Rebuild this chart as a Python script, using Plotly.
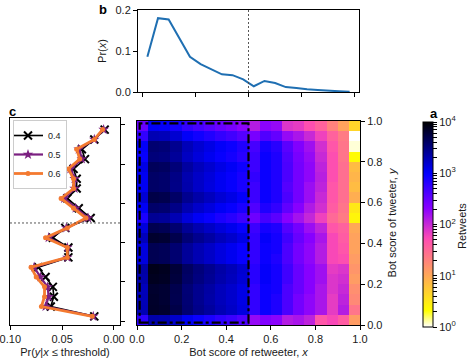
import numpy as np
import plotly.graph_objects as go

# ---------------- data ----------------
bin_centers = [0.025, 0.075, 0.125, 0.175, 0.225, 0.275, 0.325, 0.375, 0.425, 0.475,
               0.525, 0.575, 0.625, 0.675, 0.725, 0.775, 0.825, 0.875, 0.925, 0.975]

# panel b: Pr(x)
pr_x = [0.086, 0.180, 0.177, 0.133, 0.086, 0.068, 0.056, 0.043, 0.041, 0.031,
        0.014, 0.027, 0.022, 0.012, 0.010, 0.0065, 0.005, 0.0025, 0.0017, 0.0005]

# panel c: Pr(y | x <= threshold), y bins from bottom (0.025) to top (0.975)
pr_y_04 = [0.019, 0.061, 0.058, 0.059, 0.066, 0.073, 0.044, 0.044, 0.059, 0.047,
           0.0225, 0.034, 0.045, 0.036, 0.036, 0.039, 0.028, 0.031, 0.019, 0.009]
pr_y_05 = [0.020, 0.066, 0.063, 0.064, 0.071, 0.077, 0.045, 0.045, 0.063, 0.046,
           0.025, 0.037, 0.048, 0.038, 0.038, 0.042, 0.031, 0.034, 0.019, 0.010]
pr_y_06 = [0.021, 0.070, 0.067, 0.067, 0.075, 0.080, 0.045, 0.045, 0.066, 0.045,
           0.027, 0.039, 0.051, 0.039, 0.039, 0.044, 0.033, 0.036, 0.019, 0.011]
thresholds = ["0.4", "0.5", "0.6"]

# panel a: log10(retweets), rows listed from top (y=0.975) to bottom (y=0.025)
log10_retweets_top_down = [
    [2.48, 3.03, 3.00, 2.90, 2.75, 2.65, 2.57, 2.48, 2.40, 2.30, 2.10, 2.30, 2.25, 1.90, 1.85, 1.70, 1.55, 1.30, 1.05, 0.65],
    [2.75, 3.30, 3.28, 3.18, 3.02, 2.92, 2.84, 2.75, 2.68, 2.58, 2.40, 2.60, 2.50, 2.25, 2.15, 2.00, 1.80, 1.55, 1.35, 0.00],
    [3.01, 3.56, 3.54, 3.44, 3.28, 3.18, 3.10, 3.01, 2.94, 2.84, 2.65, 2.90, 2.80, 2.55, 2.35, 2.20, 1.95, 1.65, 1.40, 0.05],
    [2.97, 3.52, 3.50, 3.40, 3.24, 3.14, 3.06, 2.97, 2.90, 2.80, 2.70, 2.95, 2.85, 2.60, 2.40, 2.25, 2.00, 1.70, 1.40, 0.35],
    [3.10, 3.65, 3.63, 3.53, 3.37, 3.27, 3.19, 3.10, 3.03, 2.93, 2.70, 2.95, 2.85, 2.62, 2.42, 2.28, 2.05, 1.70, 1.45, 0.85],
    [3.05, 3.60, 3.58, 3.48, 3.32, 3.22, 3.14, 3.05, 2.98, 2.88, 2.75, 2.95, 2.85, 2.62, 2.42, 2.28, 2.08, 1.70, 1.45, 0.90],
    [3.05, 3.60, 3.58, 3.47, 3.33, 3.22, 3.13, 3.05, 2.98, 2.88, 2.70, 2.95, 2.85, 2.58, 2.42, 2.22, 2.05, 1.65, 1.45, 0.85],
    [3.17, 3.72, 3.70, 3.60, 3.44, 3.34, 3.26, 3.17, 3.10, 3.00, 2.70, 2.95, 2.85, 2.62, 2.42, 2.22, 2.00, 1.65, 1.45, 0.95],
    [3.04, 3.59, 3.57, 3.47, 3.31, 3.21, 3.13, 3.04, 2.97, 2.87, 2.60, 2.85, 2.75, 2.52, 2.32, 2.12, 1.95, 1.60, 1.40, 0.50],
    [2.87, 3.42, 3.40, 3.30, 3.14, 3.04, 2.96, 2.87, 2.80, 2.70, 2.45, 2.65, 2.55, 2.32, 2.18, 2.02, 1.80, 1.50, 1.35, 0.40],
    [3.14, 3.69, 3.67, 3.57, 3.41, 3.31, 3.23, 3.14, 3.07, 2.97, 2.70, 2.90, 2.85, 2.58, 2.42, 2.22, 2.05, 1.65, 1.55, 1.00],
    [3.27, 3.82, 3.80, 3.70, 3.54, 3.44, 3.36, 3.27, 3.20, 3.10, 2.75, 3.00, 2.90, 2.68, 2.48, 2.32, 2.15, 1.75, 1.60, 1.05],
    [3.13, 3.68, 3.66, 3.56, 3.40, 3.30, 3.22, 3.13, 3.06, 2.96, 2.75, 2.95, 2.90, 2.62, 2.42, 2.28, 2.10, 1.75, 1.65, 1.05],
    [3.13, 3.68, 3.66, 3.56, 3.40, 3.30, 3.22, 3.13, 3.06, 2.96, 2.75, 2.95, 2.85, 2.62, 2.42, 2.28, 2.10, 1.75, 1.70, 1.10],
    [3.35, 3.90, 3.88, 3.78, 3.62, 3.52, 3.44, 3.35, 3.28, 3.18, 2.80, 3.00, 2.90, 2.68, 2.48, 2.32, 2.20, 1.85, 1.90, 1.15],
    [3.33, 3.88, 3.86, 3.76, 3.60, 3.50, 3.42, 3.33, 3.26, 3.16, 2.80, 3.00, 2.90, 2.68, 2.48, 2.32, 2.20, 1.90, 1.95, 1.10],
    [3.27, 3.82, 3.80, 3.70, 3.54, 3.44, 3.36, 3.27, 3.20, 3.10, 2.75, 2.95, 2.90, 2.62, 2.48, 2.32, 2.15, 1.90, 2.00, 1.20],
    [3.28, 3.83, 3.80, 3.69, 3.55, 3.44, 3.35, 3.27, 3.20, 3.10, 2.75, 2.95, 2.85, 2.62, 2.42, 2.28, 2.15, 1.85, 2.05, 1.25],
    [3.29, 3.84, 3.82, 3.72, 3.56, 3.46, 3.38, 3.29, 3.22, 3.12, 2.75, 2.95, 2.85, 2.62, 2.42, 2.28, 2.15, 1.85, 2.10, 1.40],
    [2.78, 3.33, 3.31, 3.21, 3.05, 2.95, 2.87, 2.78, 2.71, 2.61, 2.25, 2.35, 2.30, 2.10, 2.15, 2.05, 1.65, 1.75, 1.60, 1.10],
]

cbar_major = [0, 1, 2, 3, 4]
cbar_labels = ["10<sup>0</sup>", "10<sup>1</sup>", "10<sup>2</sup>", "10<sup>3</sup>", "10<sup>4</sup>"]

# ---------------- style helpers ----------------
W, H = 474, 361
FONT = "Liberation Sans, Arial, sans-serif"
TXT = "#1a1a1a"


def px_x(p):
    return p / W


def px_y(p):
    return (H - p) / H


def gnuplot2(t):
    r = min(max(t / 0.32 - 0.78125, 0), 1)
    g = min(max(2 * t - 0.84, 0), 1)
    if t < 0.25:
        b = 4 * t
    elif t < 0.92:
        b = -2 * t + 1.84
    else:
        b = t / 0.08 - 11.5
    b = min(max(b, 0), 1)
    return "rgb(%d,%d,%d)" % (round(r * 255), round(g * 255), round(b * 255))


colorscale = [[p, gnuplot2(1 - p)] for p in np.linspace(0, 1, 51)]

z = log10_retweets_top_down[::-1]

# major + minor ticks of the colour bar
cb_vals, cb_text = [], []
for k in range(4):
    for m in range(1, 10):
        cb_vals.append(k + np.log10(m))
        cb_text.append(cbar_labels[k] if m == 1 else " ")
cb_vals.append(cbar_major[-1])
cb_text.append(cbar_labels[-1])

fig = go.Figure()

fig.add_trace(go.Heatmap(
    x=bin_centers, y=bin_centers, z=z, zmin=0, zmax=4,
    colorscale=colorscale, xaxis="x", yaxis="y", showscale=True,
    colorbar=dict(
        x=px_x(423), xanchor="left", xpad=0, y=px_y(327), yanchor="bottom", ypad=0,
        len=(327 - 122) / H, lenmode="fraction", thickness=10, thicknessmode="pixels",
        outlinewidth=1, outlinecolor="black",
        tickmode="array", tickvals=cb_vals, ticktext=cb_text,
        ticks="outside", ticklen=4, tickcolor="black", tickwidth=1,
        tickfont=dict(size=11, color=TXT, family=FONT),
    ),
))

fig.add_trace(go.Scatter(
    x=bin_centers, y=pr_x, mode="lines", line=dict(color="#1f6fb2", width=2),
    xaxis="x2", yaxis="y2", showlegend=False,
))

series = [
    (pr_y_04, thresholds[0], "#000000", "x-thin", 8, 1.6, 2),
    (pr_y_05, thresholds[1], "#7b1f80", "star", 8, 2.2, 0),
    (pr_y_06, thresholds[2], "#f47a30", "circle", 5, 2.8, 0),
]
for vals, name, col, sym, msize, lw, mlw in series:
    fig.add_trace(go.Scatter(
        x=vals, y=bin_centers, mode="lines+markers", name=name,
        line=dict(color=col, width=lw),
        marker=dict(symbol=sym, size=msize, color=col, line=dict(color=col, width=mlw)),
        xaxis="x3", yaxis="y3",
    ))

axis_common = dict(showline=True, mirror=True, linecolor="black", linewidth=1,
                   ticks="outside", ticklen=4, tickcolor="black", showgrid=False,
                   zeroline=False, automargin=False, ticklabeloverflow="allow",
                   tickfont=dict(size=11, color=TXT, family=FONT))

fig.update_layout(
    width=W, height=H, margin=dict(l=0, r=0, t=0, b=0, autoexpand=False),
    paper_bgcolor="white", plot_bgcolor="white",
    font=dict(family=FONT, size=11, color=TXT),
    xaxis=dict(domain=[px_x(137), px_x(360)], anchor="y", range=[0, 1],
               tickvals=[0, 0.2, 0.4, 0.6, 0.8, 1.0],
               ticktext=["0.0", "0.2", "0.4", "0.6", "0.8", "1.0"],
               title=dict(text="Bot score of retweeter, <i>x</i>", standoff=4,
                          font=dict(size=11, color=TXT)), **axis_common),
    yaxis=dict(domain=[px_y(325), px_y(121)], anchor="x", range=[0, 1], side="right",
               tickvals=[0, 0.2, 0.4, 0.6, 0.8, 1.0],
               ticktext=["0.0", "0.2", "0.4", "0.6", "0.8", "1.0"],
               title=dict(text="Bot score of tweeter, <i>y</i>", standoff=6,
                          font=dict(size=11, color=TXT)), **axis_common),
    xaxis2=dict(domain=[px_x(138), px_x(359)], anchor="y2", range=[-0.019, 1.019],
                tickvals=[0, 0.25, 0.5, 0.75, 1.0], showticklabels=False, **axis_common),
    yaxis2=dict(domain=[px_y(92), px_y(10)], anchor="x2", range=[0, 0.2],
                tickvals=[0, 0.1, 0.2], ticktext=["0.0", "0.1", "0.2"],
                title=dict(text="Pr(<i>x</i>)", standoff=6, font=dict(size=11, color=TXT)),
                **axis_common),
    xaxis3=dict(domain=[px_x(10), px_x(120)], anchor="y3", range=[0.1003, -0.0058],
                tickvals=[0.1, 0.05, 0.0], ticktext=["0.10", "0.05", "0.00"],
                title=dict(text="Pr(<i>y</i>|<i>x</i> ≤ threshold)", standoff=4,
                           font=dict(size=11, color=TXT)), **axis_common),
    yaxis3=dict(domain=[px_y(325), px_y(118)], anchor="x3", range=[-0.019, 1.034],
                side="right", tickvals=[0, 0.2, 0.4, 0.6, 0.8, 1.0],
                showticklabels=False, **axis_common),
    legend=dict(x=px_x(13), y=px_y(120), xanchor="left", yanchor="top",
                bgcolor="rgba(255,255,255,0.9)", bordercolor="#cccccc", borderwidth=1,
                font=dict(size=9, color=TXT), itemwidth=30, tracegroupgap=0,
                indentation=-6),
    shapes=[
        dict(type="rect", xref="x", yref="y", x0=0.012, x1=0.5, y0=0.012, y1=0.988,
             line=dict(color="black", width=2.2, dash="dashdot")),
        dict(type="line", xref="x2", yref="y2 domain", x0=0.5, x1=0.5, y0=0, y1=1,
             line=dict(color="#444", width=0.9, dash="2px,2px")),
        dict(type="line", xref="x3 domain", yref="y3", x0=0, x1=1, y0=0.5, y1=0.5,
             line=dict(color="#444", width=0.9, dash="2px,2px")),
    ],
    annotations=[
        dict(text="<b>b</b>", x=px_x(97), y=px_y(0), xref="paper", yref="paper",
             xanchor="left", yanchor="top", showarrow=False, font=dict(size=13, color="black")),
        dict(text="<b>c</b>", x=px_x(7), y=px_y(102), xref="paper", yref="paper",
             xanchor="left", yanchor="top", showarrow=False, font=dict(size=13, color="black")),
        dict(text="<b>a</b>", x=px_x(428), y=px_y(104), xref="paper", yref="paper",
             xanchor="left", yanchor="top", showarrow=False, font=dict(size=13, color="black")),
        dict(text="Retweets", x=px_x(470), y=px_y(226), xref="paper", yref="paper",
             textangle=-90, showarrow=False, font=dict(size=11, color=TXT)),
    ],
)

fig.write_html("out.html", config={"displayModeBar": False},
               post_script="document.body.style.margin='0';document.body.style.overflow='hidden';")
